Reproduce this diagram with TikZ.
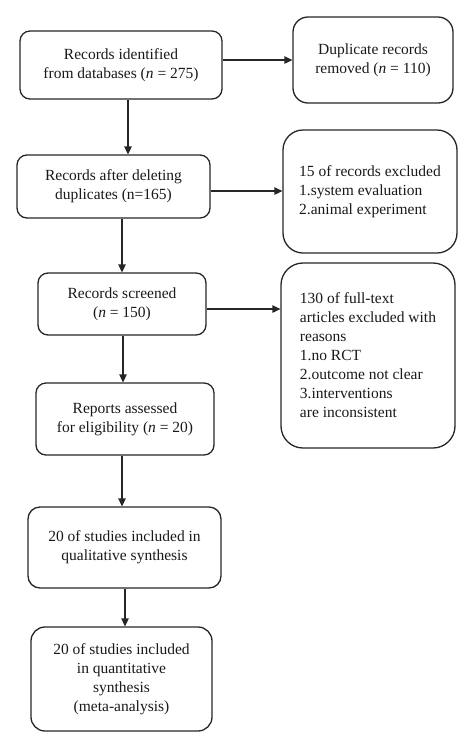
\documentclass[tikz,border=0pt]{standalone}
\usepackage{fontspec}
\setmainfont{Liberation Serif}
\usetikzlibrary{arrows.meta}
\begin{document}
\begin{tikzpicture}[x=1pt,y=1pt,
  box/.style={draw=black!85, line width=1.3pt, rounded corners=10pt, align=center,
    font=\fontsize{15.5}{19}\selectfont, inner sep=2pt, text=black!90},
  leftbox/.style={box, align=left},
  arr/.style={draw=black!85, line width=1.3pt, -{Triangle[length=8pt,width=7.5pt]}}]
\useasboundingbox (0,0) rectangle (474,-748);
\node[box, minimum width=202pt, minimum height=68pt] (b1) at (121,-65)
  {Records identified\\from databases (\textit{n} = 275)};
\node[box, rounded corners=15pt, minimum width=160pt, minimum height=86pt] (b2) at (373,-60)
  {Duplicate records\\removed (\textit{n} = 110)};
\node[box, minimum width=193pt, minimum height=63pt] (b3) at (113.5,-186.5)
  {Records after deleting\\duplicates (n=165)};
\node[leftbox, rounded corners=20pt, minimum width=174pt, minimum height=123pt] (b4) at (370,-191.5)
  {15 of records excluded\\1.system evaluation\\2.animal experiment};
\node[box, minimum width=168pt, minimum height=62pt] (b5) at (122,-304)
  {Records screened\\(\textit{n} = 150)};
\node[leftbox, rounded corners=22pt, minimum width=174pt, minimum height=185pt] (b6) at (368,-355.5)
  {130 of full-text\\articles excluded with\\reasons\\1.no RCT\\2.outcome not clear\\3.interventions\\are inconsistent};
\node[box, minimum width=178pt, minimum height=72pt] (b7) at (125,-419)
  {Reports assessed\\for eligibility (\textit{n} = 20)};
\node[box, rounded corners=12pt, minimum width=193pt, minimum height=81pt] (b8) at (124.5,-547.5)
  {20 of studies included in\\qualitative synthesis};
\node[box, rounded corners=14pt, minimum width=181pt, minimum height=104pt] (b9) at (121.5,-679)
  {20 of studies included\\in quantitative\\synthesis\\(meta-analysis)};
% horizontal arrows
\draw[arr] ([yshift=5pt]b1.east) -- ([yshift=5pt]b1.east -| b2.west);
\draw[arr] ([yshift=-4.5pt]b3.east) -- ([yshift=-4.5pt]b3.east -| b4.west);
\draw[arr] ([yshift=-5pt]b5.east) -- ([yshift=-5pt]b5.east -| b6.west);
% vertical arrows
\draw[arr] ([xshift=7pt]b1.south) -- ([xshift=7pt]b1.south |- b3.north);
\draw[arr] ([xshift=8.5pt]b3.south) -- ([xshift=8.5pt]b3.south |- b5.north);
\draw[arr] ([xshift=1pt]b5.south) -- ([xshift=1pt]b5.south |- b7.north);
\draw[arr] ([xshift=-3pt]b7.south) -- ([xshift=-3pt]b7.south |- b8.north);
\draw[arr] ([xshift=0.5pt]b8.south) -- ([xshift=0.5pt]b8.south |- b9.north);
\end{tikzpicture}
\end{document}
